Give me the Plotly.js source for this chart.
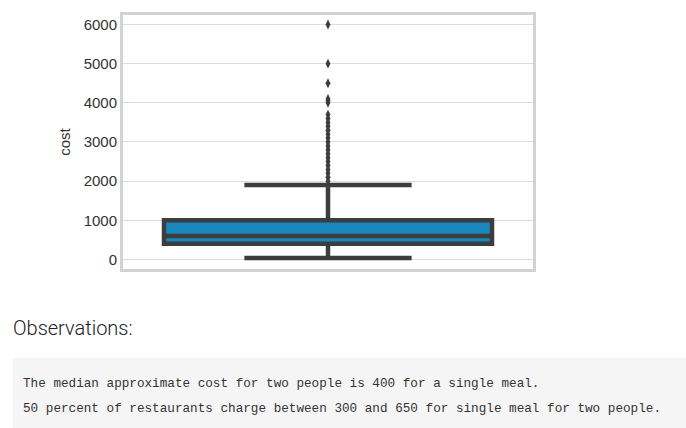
<!DOCTYPE html>
<html>
<head>
<meta charset="utf-8">
<script src="https://cdn.plot.ly/plotly-3.0.1.min.js"></script>
<style>
  html, body { margin: 0; padding: 0; background: #ffffff; width: 686px; height: 428px; overflow: hidden; }
  #chart { position: absolute; left: 0; top: 0; width: 686px; height: 290px; }
  #obs { position: absolute; left: 13px; top: 316px; font-family: Roboto, "Noto Sans", sans-serif; font-weight: 300; font-size: 20px; line-height: 24px; color: #222; white-space: nowrap; }
  #codebox { position: absolute; left: 13px; top: 358px; width: 673px; height: 70px; background: #f5f5f5; }
  .code { position: absolute; left: 23px; font-family: "Liberation Mono", "DejaVu Sans Mono", monospace; font-size: 12.67px; line-height: 25px; color: #333; white-space: pre; }
</style>
</head>
<body>
<div id="chart"></div>
<div id="obs">Observations:</div>
<div id="codebox"></div>
<div class="code" id="line1" style="top:371px;"></div>
<div class="code" id="line2" style="top:396px;"></div>
<script>
// Box statistics
const category = [0];
const q1Values = [400];
const medianValues = [600];
const q3Values = [1000];
const lowerFence = [40];
const upperFence = [1900];

// Outlier costs
const outlierCosts = [2000, 2100, 2200, 2300, 2400, 2500, 2600, 2700, 2800, 2900,
                      3000, 3100, 3200, 3300, 3400, 3500, 3600, 3700,
                      4000, 4050, 4100, 4500, 5000, 6000];

const yTickValues = [0, 1000, 2000, 3000, 4000, 5000, 6000];
const yTickLabels = ["0", "1000", "2000", "3000", "4000", "5000", "6000"];
const yAxisTitle = "cost";

const observationLines = [
  "The median approximate cost for two people is 400 for a single meal.",
  "50 percent of restaurants charge between 300 and 650 for single meal for two people."
];

document.getElementById('line1').textContent = observationLines[0];
document.getElementById('line2').textContent = observationLines[1];

const darkLine = '#3d3d3d';

const boxTrace = {
  type: 'box',
  x: category,
  q1: q1Values,
  median: medianValues,
  q3: q3Values,
  lowerfence: lowerFence,
  upperfence: upperFence,
  boxpoints: false,
  width: 0.8,
  whiskerwidth: 0.51,
  fillcolor: '#1a87be',
  line: { color: darkLine, width: 4.5 },
  hoverinfo: 'none',
  showlegend: false
};

const outlierTrace = {
  type: 'scatter',
  mode: 'markers',
  x: outlierCosts.map(() => category[0]),
  y: outlierCosts,
  marker: { symbol: 'diamond-tall', size: 7, color: darkLine, line: { width: 0 } },
  hoverinfo: 'none',
  showlegend: false
};

const layout = {
  width: 686,
  height: 290,
  margin: { l: 123, r: 153, t: 15, b: 21 },
  paper_bgcolor: '#ffffff',
  plot_bgcolor: '#ffffff',
  showlegend: false,
  xaxis: {
    range: [-0.5, 0.5],
    showticklabels: false,
    showgrid: false,
    zeroline: false,
    ticks: '',
    showline: true,
    mirror: true,
    linecolor: '#d3d3d3',
    linewidth: 3,
    fixedrange: true
  },
  yaxis: {
    range: [-243, 6242],
    tickvals: yTickValues,
    ticktext: yTickLabels,
    ticks: '',
    showgrid: true,
    gridcolor: '#dddddd',
    gridwidth: 1,
    zeroline: false,
    showline: true,
    mirror: true,
    linecolor: '#d3d3d3',
    linewidth: 3,
    tickfont: { family: 'Liberation Sans, Arial, sans-serif', size: 15, color: '#333333' },
    title: { text: yAxisTitle, standoff: 10, font: { family: 'Liberation Sans, Arial, sans-serif', size: 15, color: '#333333' } },
    automargin: false,
    fixedrange: true
  }
};

Plotly.newPlot('chart', [boxTrace, outlierTrace], layout, { staticPlot: true, displayModeBar: false });
</script>
</body>
</html>
